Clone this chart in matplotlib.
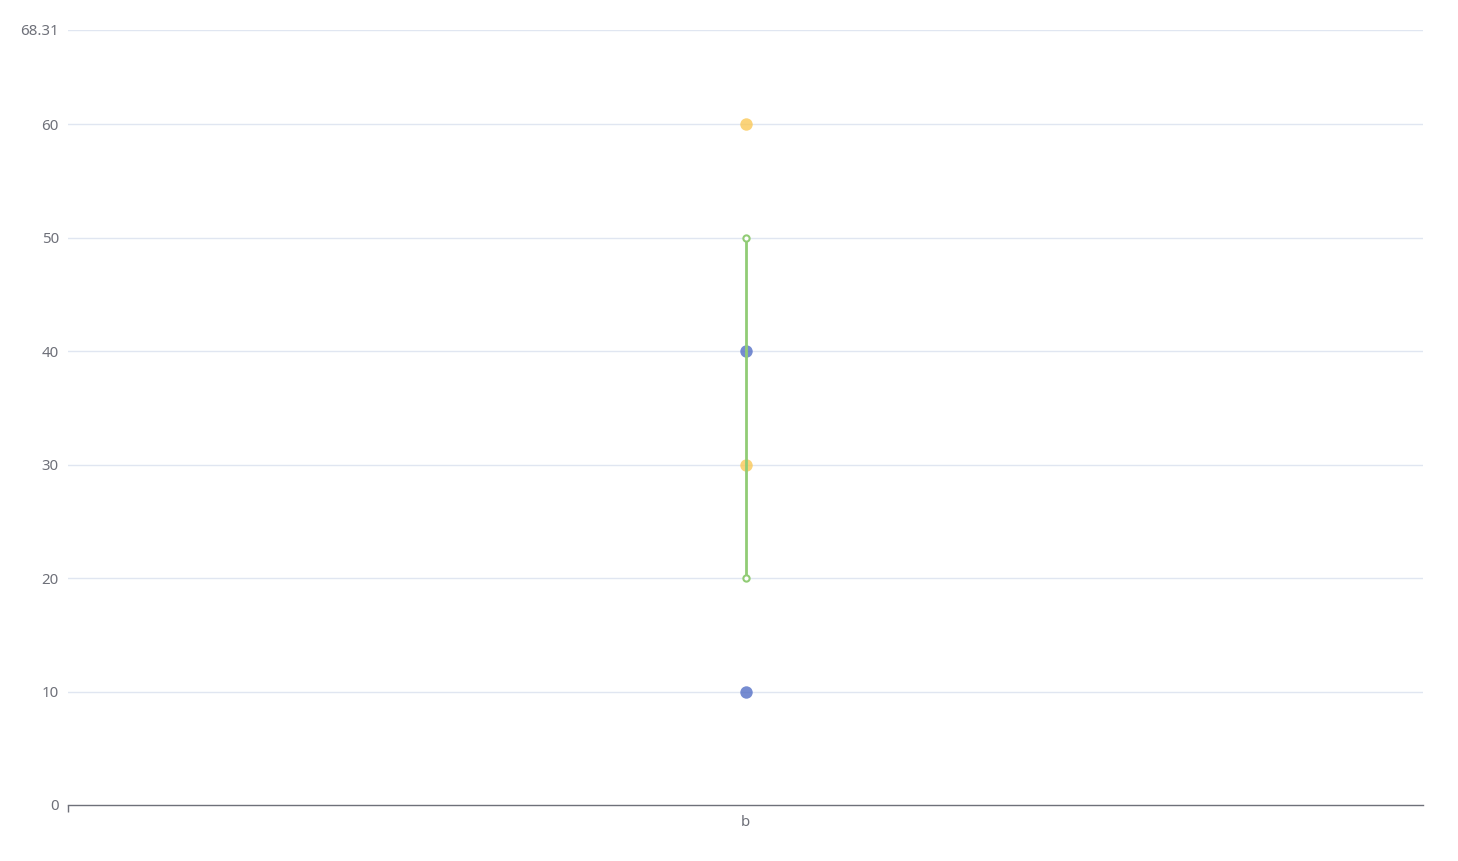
import matplotlib
matplotlib.use("Agg")
import matplotlib.pyplot as plt

categories = ["b"]
blue_vals = [10, 40]
yellow_vals = [30, 60]
green_vals = [20, 50]
y_max = 68.31
y_ticks = [0, 10, 20, 30, 40, 50, 60, 68.31]
y_tick_labels = ["0", "10", "20", "30", "40", "50", "60", "68.31"]

plt.rcParams['font.family'] = ['Noto Sans', 'DejaVu Sans']

W, H = 1458, 861
fig = plt.figure(figsize=(W / 100, H / 100), dpi=100)
ax = fig.add_axes([68 / W, (H - 805) / H, (1423 - 68) / W, (805 - 29.7) / H])

# scatter series first, the line sits on top
ax.scatter([0] * len(blue_vals), blue_vals, s=80, color="#5470c6",
           alpha=0.8, linewidths=0, zorder=3)
ax.scatter([0] * len(yellow_vals), yellow_vals, s=80, color="#fac858",
           alpha=0.8, linewidths=0, zorder=3)
ax.plot([0] * len(green_vals), green_vals, color="#91cc75", lw=2,
        marker="o", markersize=4.5, markerfacecolor="white",
        markeredgecolor="#91cc75", markeredgewidth=1.5, zorder=4)

ax.set_xlim(-0.5, 0.5)
ax.set_ylim(0, y_max)

ax.set_yticks(y_ticks)
ax.set_yticklabels(y_tick_labels)
ax.set_xticks([0])
ax.set_xticklabels(categories)
ax.set_xticks([-0.5], minor=True)

ax.tick_params(axis="y", length=0, pad=6.5, labelsize=10.8, labelcolor="#6E7079")
ax.tick_params(axis="x", which="major", length=0, pad=7, labelsize=10.8,
               labelcolor="#6E7079")
ax.tick_params(axis="x", which="minor", length=5, width=1, color="#6E7079")

for yv in y_ticks[1:]:
    ax.axhline(yv, color="#E0E6F1", lw=1, zorder=1)

for side in ["top", "right", "left"]:
    ax.spines[side].set_visible(False)
ax.spines["bottom"].set_color("#6E7079")
ax.spines["bottom"].set_linewidth(1)

fig.savefig("out.png", dpi=100, facecolor="white")
